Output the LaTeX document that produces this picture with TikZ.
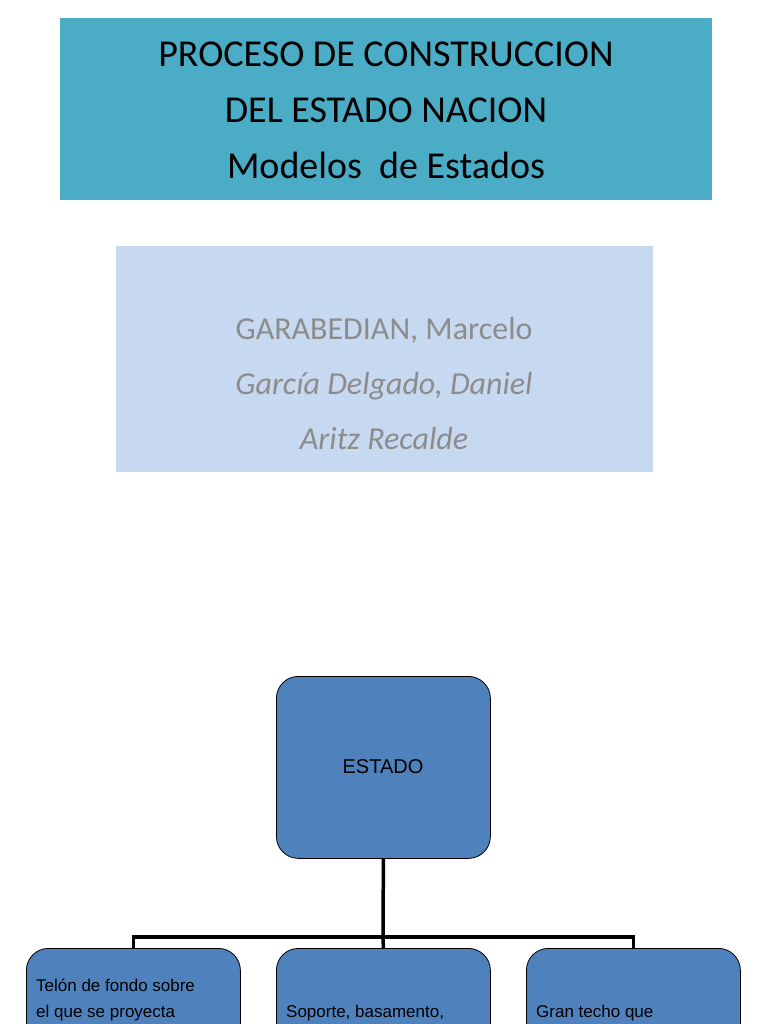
\documentclass[tikz,border=0pt]{standalone}
\usepackage{fontspec}
\setmainfont{Carlito}
\newfontfamily\arial{Liberation Sans}
\begin{document}
\begin{tikzpicture}[x=1pt,y=-1pt,
  box/.style={draw=black,line width=0.8pt,fill=boxblue,rounded corners=22pt,anchor=north west,inner sep=0pt},
  conn/.style={line width=3.5pt,draw=black},
  lbl/.style={font=\arial\fontsize{17}{26}\selectfont,align=left,anchor=north west,inner sep=0pt}]
\definecolor{titleblue}{HTML}{4BACC6}
\definecolor{lightblue}{HTML}{C6D9F1}
\definecolor{boxblue}{HTML}{4F81BD}
\definecolor{graytext}{HTML}{8C8C8C}
\useasboundingbox (0,0) rectangle (768,1024);
\clip (0,0) rectangle (768,1024);
\fill[white] (0,0) rectangle (768,1024);
\node[fill=titleblue,minimum width=652pt,minimum height=182pt,anchor=north west,inner sep=0pt] (title) at (60,18) {};
\node[font=\fontsize{38}{56}\selectfont,align=center] (tt) at (386,110) {PROCESO DE CONSTRUCCION\\DEL ESTADO NACION\\Modelos\ \ de Estados};
\node[fill=lightblue,minimum width=537pt,minimum height=226pt,anchor=north west,inner sep=0pt] (auth) at (116,246) {};
\node[font=\fontsize{32}{55}\selectfont,align=center,text=graytext] (at) at (384,384) {GARABEDIAN, Marcelo\\\textit{García Delgado, Daniel}\\\textit{Aritz Recalde}};
\node[box,minimum width=214pt,minimum height=182pt] (estado) at (276,676) {};
\node[font=\arial\fontsize{20}{24}\selectfont] at (383,767) {ESTADO};
\node[box,minimum width=214pt,minimum height=180pt] (b1) at (26,948) {};
\node[box,minimum width=214pt,minimum height=180pt] (b2) at (276,948) {};
\node[box,minimum width=214pt,minimum height=180pt] (b3) at (526,948) {};
\node[lbl] at (36,979) {Telón de fondo sobre\\el que se proyecta};
\node[lbl] at (286,1005) {Soporte, basamento,};
\node[lbl] at (536,1005) {Gran techo que};
\coordinate (j) at (383,937);
\draw[conn] (estado.south) -- (j);
\draw[conn] (b1.north) -- ++(0,-11) -| (b3.north);
\draw[conn] (j) -- (b2.north);
\end{tikzpicture}
\end{document}
